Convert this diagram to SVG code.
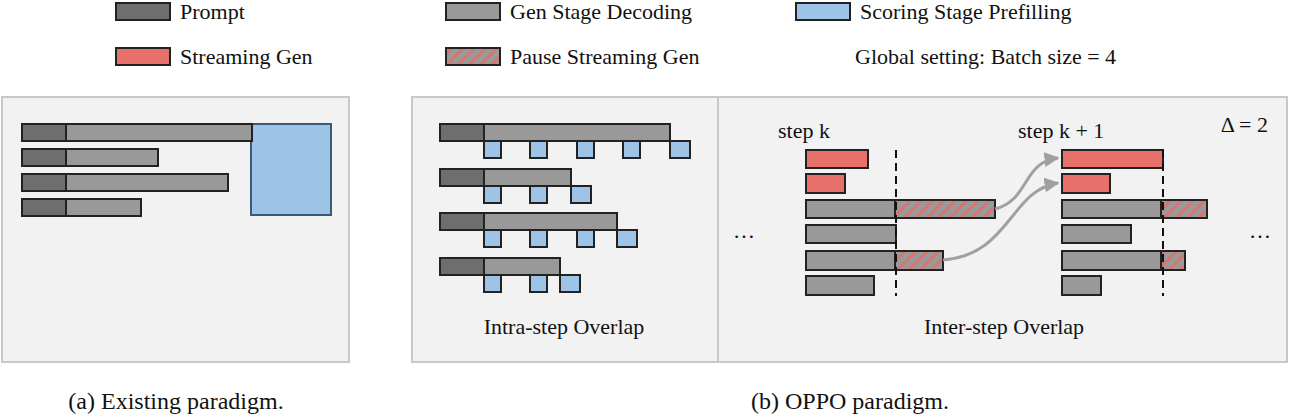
<svg xmlns="http://www.w3.org/2000/svg" width="1290" height="419" viewBox="0 0 1290 419">
<defs>
<pattern id="hatch" width="8" height="8" patternUnits="userSpaceOnUse" patternTransform="rotate(45)">
<rect width="8" height="8" fill="#9a9a9a"/><rect width="3" height="8" fill="#d97570"/>
</pattern>
<marker id="arr" viewBox="0 0 10 10" refX="9" refY="5" markerWidth="5" markerHeight="5" orient="auto"><path d="M0,0L10,5L0,10z" fill="#a0a0a0"/></marker>
<style>
.p{fill:#6e6e6e;stroke:#222;stroke-width:2}
.g{fill:#999;stroke:#222;stroke-width:2}
.b{fill:#9dc3e6;stroke:#222;stroke-width:2}
.bb{fill:#9dc3e6;stroke:#3a5a78;stroke-width:2}
.r{fill:#e8706a;stroke:#222;stroke-width:2}
.h{fill:url(#hatch);stroke:#222;stroke-width:2}
.panel{fill:#f2f2f2;stroke:#c8c8c8;stroke-width:2}
.t{font-family:"Liberation Serif",serif;font-size:22px;fill:#111}
.c{font-family:"Liberation Serif",serif;font-size:24px;fill:#111}
.d{stroke:#111;stroke-width:2;stroke-dasharray:8,5;fill:none}
.a{stroke:#a0a0a0;stroke-width:3;fill:none;marker-end:url(#arr)}
</style>
</defs>
<g id="legend">
<rect class="p" x="116" y="3" width="54" height="17"/><text class="t" x="180" y="19">Prompt</text>
<rect class="g" x="446" y="3" width="54" height="17"/><text class="t" x="510" y="19">Gen Stage Decoding</text>
<rect class="b" x="796" y="3" width="54" height="17"/><text class="t" x="860" y="19">Scoring Stage Prefilling</text>
<rect class="r" x="116" y="48" width="54" height="17"/><text class="t" x="180" y="64">Streaming Gen</text>
<rect class="h" x="446" y="48" width="54" height="17"/><text class="t" x="510" y="64">Pause Streaming Gen</text>
<text class="t" x="855" y="64">Global setting: Batch size = 4</text>
</g>
<g id="panelA">
<rect class="panel" x="2" y="97" width="347" height="265"/>
<rect class="bb" x="251" y="124" width="80" height="91"/>
<rect class="g" x="66" y="124" width="186" height="17"/><rect class="p" x="22" y="124" width="44" height="17"/>
<rect class="g" x="66" y="149" width="92" height="17"/><rect class="p" x="22" y="149" width="44" height="17"/>
<rect class="g" x="66" y="174" width="162" height="17"/><rect class="p" x="22" y="174" width="44" height="17"/>
<rect class="g" x="66" y="199" width="75" height="17"/><rect class="p" x="22" y="199" width="44" height="17"/>
</g>
<g id="panelB">
<rect class="panel" x="412" y="97" width="875" height="265"/>
<line x1="718" y1="97" x2="718" y2="362" stroke="#c8c8c8" stroke-width="2"/>
</g>
<g id="intra">
<rect class="b" x="484" y="141" width="17" height="17"/><rect class="b" x="530" y="141" width="17" height="17"/><rect class="b" x="577" y="141" width="17" height="17"/><rect class="b" x="623" y="141" width="17" height="17"/><rect class="b" x="670" y="141" width="20" height="17"/>
<rect class="p" x="440" y="124" width="44" height="17"/><rect class="g" x="484" y="124" width="186" height="17"/>
<rect class="b" x="484" y="186" width="17" height="17"/><rect class="b" x="530" y="186" width="17" height="17"/><rect class="b" x="571" y="186" width="20" height="17"/>
<rect class="p" x="440" y="169" width="44" height="17"/><rect class="g" x="484" y="169" width="87" height="17"/>
<rect class="b" x="484" y="230" width="17" height="17"/><rect class="b" x="530" y="230" width="17" height="17"/><rect class="b" x="577" y="230" width="17" height="17"/><rect class="b" x="617" y="230" width="20" height="17"/>
<rect class="p" x="440" y="213" width="44" height="17"/><rect class="g" x="484" y="213" width="133" height="17"/>
<rect class="b" x="484" y="275" width="17" height="17"/><rect class="b" x="530" y="275" width="17" height="17"/><rect class="b" x="560" y="275" width="20" height="17"/>
<rect class="p" x="440" y="258" width="44" height="17"/><rect class="g" x="484" y="258" width="76" height="17"/>
<text class="t" x="564" y="334" text-anchor="middle">Intra-step Overlap</text>
</g>
<g id="stepK">
<text class="t" x="778" y="138">step k</text>
<rect class="r" x="806" y="150" width="62" height="18"/>
<rect class="r" x="806" y="174" width="39" height="19"/>
<rect class="g" x="806" y="200" width="89" height="18"/><rect class="h" x="895" y="200" width="100" height="18"/>
<rect class="g" x="806" y="225" width="90" height="18"/>
<rect class="g" x="806" y="251" width="89" height="19"/><rect class="h" x="895" y="251" width="48" height="19"/>
<rect class="g" x="806" y="276" width="68" height="19"/>
<line class="d" x1="896" y1="150" x2="896" y2="296"/>
</g>
<g id="stepK1">
<text class="t" x="1018" y="138">step k + 1</text>
<rect class="r" x="1062" y="150" width="101" height="18"/>
<rect class="r" x="1062" y="174" width="48" height="19"/>
<rect class="g" x="1062" y="200" width="99" height="18"/><rect class="h" x="1161" y="200" width="46" height="18"/>
<rect class="g" x="1062" y="225" width="69" height="18"/>
<rect class="g" x="1062" y="251" width="99" height="19"/><rect class="h" x="1161" y="251" width="24" height="19"/>
<rect class="g" x="1062" y="276" width="39" height="19"/>
<line class="d" x1="1163" y1="150" x2="1163" y2="296"/>
</g>
<g id="connectors">
<path class="a" d="M995,209 C1030,200 1022,162 1058,158"/>
<path class="a" d="M943,260 C1010,255 1010,190 1058,183"/>
</g>
<g id="labels">
<text class="t" x="1268" y="132" text-anchor="end">Δ = 2</text>
<text class="t" x="744" y="238" text-anchor="middle">…</text>
<text class="t" x="1260" y="238" text-anchor="middle">…</text>
<text class="t" x="1004" y="334" text-anchor="middle">Inter-step Overlap</text>
<text class="c" x="176" y="409" text-anchor="middle">(a) Existing paradigm.</text>
<text class="c" x="850" y="409" text-anchor="middle">(b) OPPO paradigm.</text>
</g>
</svg>
